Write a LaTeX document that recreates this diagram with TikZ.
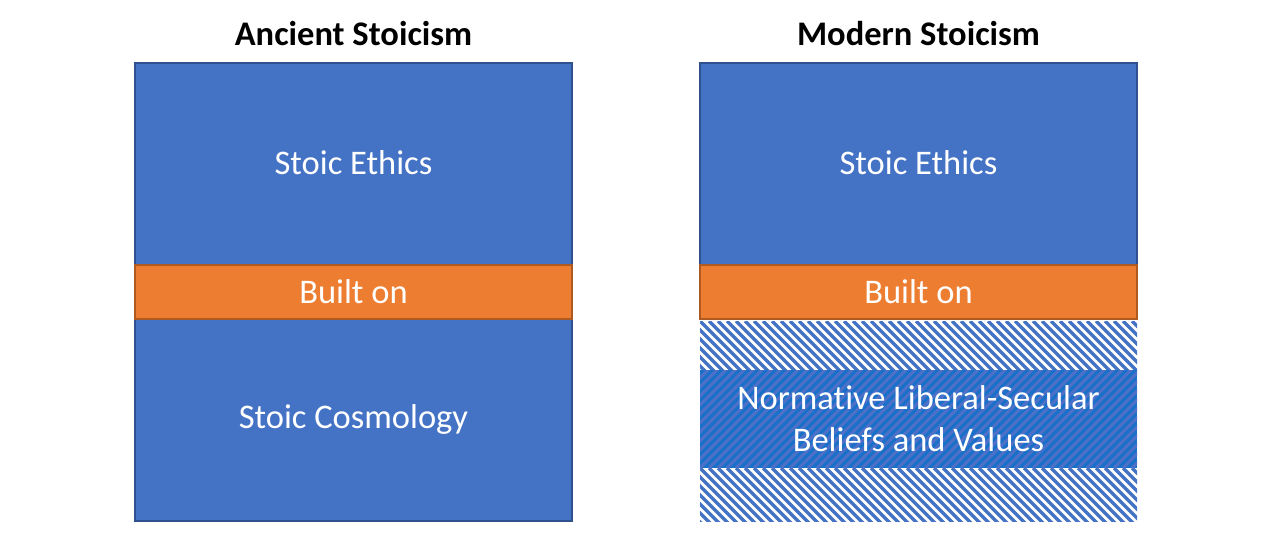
\documentclass[tikz,border=0pt]{standalone}
\usepackage{fontspec}
\setmainfont[Ligatures=NoCommon]{Carlito}
\definecolor{mblue}{HTML}{4472C4}
\definecolor{mblueB}{HTML}{2F528F}
\definecolor{morange}{HTML}{ED7D31}
\definecolor{morangeB}{HTML}{AE5A21}
\definecolor{hbase}{RGB}{24,112,200}
\definecolor{hstripe}{RGB}{78,112,200}
\begin{document}
\begin{tikzpicture}[x=1pt,y=-1pt,
  bluebox/.style={draw=mblueB,fill=mblue,line width=1.2pt},
  orangebox/.style={draw=morangeB,fill=morange,line width=1.2pt},
  lbl/.style={text=white,font=\fontsize{34.5}{42}\selectfont,align=center},
  ttl/.style={font=\bfseries\fontsize{34.5}{40}\selectfont}]
\useasboundingbox (0,0) rectangle (1270,558);
% Left column
\draw[bluebox] (135,63) rectangle (572,265);
\draw[bluebox] (135,319) rectangle (572,521);
\draw[orangebox] (135,265) rectangle (572,319);
\node[ttl] (t1) at (353.5,34) {Ancient Stoicism};
\node[lbl] (e1) at (353.5,163) {Stoic Ethics};
\node[lbl] (b1) at (353.5,292) {Built on};
\node[lbl] (c1) at (353.5,419) {Stoic Cosmology};
% Right column
\draw[bluebox] (700,63) rectangle (1137,265);
\draw[orangebox] (700,265) rectangle (1137,319);
\node[ttl] (t2) at (918.5,34) {Modern Stoicism};
\node[lbl] (e2) at (918.5,163) {Stoic Ethics};
\node[lbl] (b2) at (918.5,292) {Built on};
% hatched bands
\begin{scope}
\clip (700,321) rectangle (1137,370);
\foreach \i in {-12,...,50}{\draw[mblue,line width=3.3pt] (700+\i*9,321) -- ++(60,60);}
\end{scope}
\begin{scope}
\clip (700,468) rectangle (1137,521);
\foreach \i in {-12,...,50}{\draw[mblue,line width=3.3pt] (700+\i*9,468) -- ++(60,60);}
\end{scope}
\fill[hbase] (700,370) rectangle (1137,468);
\begin{scope}
\clip (700,370) rectangle (1137,468);
\foreach \i in {-15,...,50}{\draw[hstripe,line width=3pt] (700+\i*9,468) -- ++(110,-110);}
\end{scope}
\node[lbl] (n2) at (918.5,419) {Normative Liberal-Secular\\Beliefs and Values};
\end{tikzpicture}
\end{document}
